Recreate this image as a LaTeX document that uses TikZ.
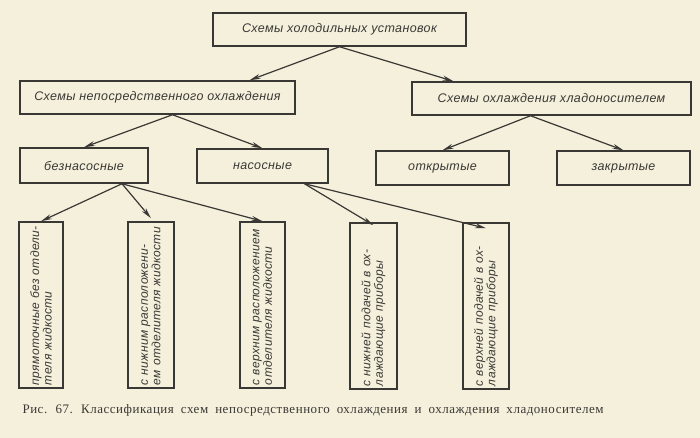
\documentclass[tikz,border=0pt]{standalone}
\usepackage{fontspec}
\newfontfamily\capfont{Liberation Serif}[LetterSpace=4]
\newfontfamily\gost{Liberation Sans}[LetterSpace=3]
\usetikzlibrary{arrows.meta}
\definecolor{paper}{RGB}{244,240,220}
\definecolor{ink}{RGB}{58,56,52}
\tikzset{
  box/.style={draw=ink, line width=1.5pt, inner sep=0pt, minimum height=33pt,
    text=ink, font=\gost\itshape\fontsize{12.5}{13}\selectfont},
  vbox/.style={box, rotate=90, minimum width=166pt, minimum height=45pt,
    text width=160pt, align=left, font=\gost\itshape\fontsize{12}{12.5}\selectfont}
}
\begin{document}
\begin{tikzpicture}[x=1pt, y=-1pt]
      \fill[paper] (0,0) rectangle (700,438);
      \useasboundingbox (0,0) rectangle (700,438);
      \draw
        (339.5,29.5) node[box, minimum width=253pt] (0){Схемы холодильных установок}
        (157.5,97.5) node[box, minimum width=275pt] (1){Схемы непосредственного охлаждения}
        (551.5,98.5) node[box, minimum width=279pt] (2){Схемы охлаждения хладоносителем}
        (84,165.5) node[box, minimum width=128pt, minimum height=35pt] (3){безнасосные}
        (262.5,166) node[box, minimum width=131pt, minimum height=34pt] (4){насосные}
        (442.5,168) node[box, minimum width=133pt, minimum height=34pt] (5){открытые}
        (623.5,168) node[box, minimum width=133pt, minimum height=34pt] (6){закрытые}
        (41,305) node[vbox, minimum height=44pt] (7){прямоточные без отдели-\\теля жидкости}
        (151,305) node[vbox, minimum height=46pt] (8){с нижним расположени-\\ем отделителя жидкости}
        (262.5,305) node[vbox] (9){с верхним расположением\\отделителя жидкости}
        (373.5,306) node[vbox, minimum height=47pt] (10){с нижней подачей в ох-\\лаждающие приборы}
        (486,306) node[vbox, minimum height=46pt] (11){с верхней подачей в ох-\\лаждающие приборы};
      \node[anchor=base west, text=ink, font=\capfont\fontsize{13}{15}\selectfont] (12) at (19,413)
        {\spaceskip=7pt plus 1pt Рис. 67. Классификация схем непосредственного охлаждения и охлаждения хладоносителем};
      \begin{scope}[draw=ink, line width=1.2pt, -{Stealth[length=11pt,width=5pt]}]
        \draw (0.south) to ([xshift=92pt]1.north);
        \draw (0.south) to ([xshift=-98pt]2.north);
        \draw ([xshift=15pt]1.south) to (3.north);
        \draw ([xshift=15pt]1.south) to (4.north);
        \draw ([xshift=-21pt]2.south) to (5.north);
        \draw ([xshift=-21pt]2.south) to (6.north);
        \draw ([xshift=38pt]3.south) to (7.east);
        \draw ([xshift=38pt]3.south) to ([yshift=3pt]8.east);
        \draw ([xshift=38pt]3.south) to (9.east);
        \draw ([xshift=42pt]4.south) to ([yshift=-3pt]10.east);
        \draw ([xshift=42pt]4.south) to ([yshift=-6pt]11.east);
      \end{scope}
    \end{tikzpicture}
\end{document}
